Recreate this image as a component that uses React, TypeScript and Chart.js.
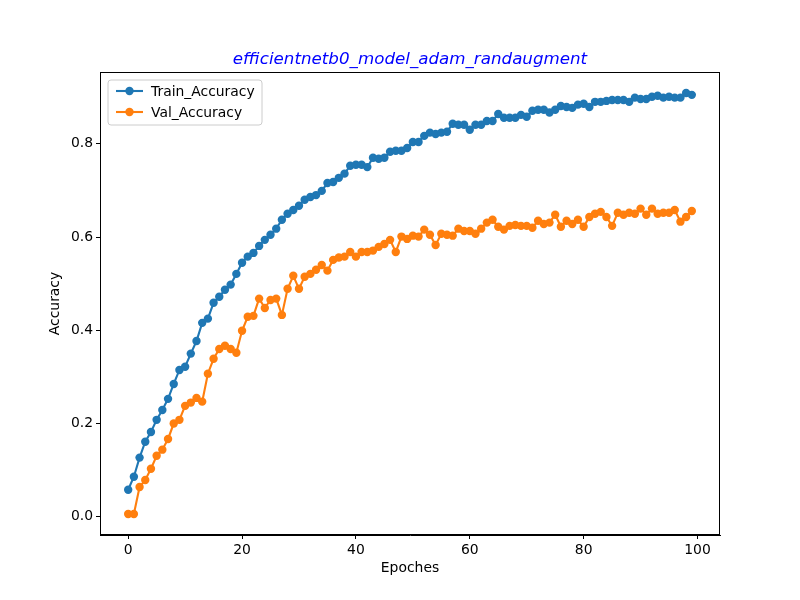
import React, { useEffect, useRef } from "react";
import { Chart, registerables } from "chart.js";

Chart.register(...registerables);

const epochs: number[] = Array.from({ length: 100 }, (_, i) => i);

const trainAccuracy: number[] = [
  0.058, 0.086, 0.127, 0.161, 0.182, 0.208, 0.229, 0.253, 0.285, 0.315,
  0.322, 0.35, 0.377, 0.416, 0.425, 0.459, 0.472, 0.487, 0.498, 0.521,
  0.545, 0.558, 0.566, 0.581, 0.594, 0.605, 0.618, 0.637, 0.65, 0.658,
  0.667, 0.68, 0.686, 0.69, 0.699, 0.716, 0.718, 0.727, 0.736, 0.753,
  0.755, 0.755, 0.75, 0.77, 0.768, 0.77, 0.783, 0.785, 0.785, 0.791,
  0.804, 0.804, 0.817, 0.824, 0.821, 0.824, 0.826, 0.843, 0.841, 0.841,
  0.83, 0.841, 0.841, 0.849, 0.849, 0.864, 0.856, 0.856, 0.856, 0.862,
  0.858, 0.871, 0.873, 0.873, 0.867, 0.873, 0.881, 0.879, 0.877, 0.884,
  0.886, 0.879, 0.89, 0.89, 0.892, 0.894, 0.894, 0.894, 0.89, 0.899,
  0.896, 0.896, 0.901, 0.903, 0.899, 0.901, 0.899, 0.899, 0.909, 0.905,
];

const valAccuracy: number[] = [
  0.006, 0.006, 0.064, 0.079, 0.103, 0.131, 0.144, 0.167, 0.2, 0.208,
  0.238, 0.245, 0.255, 0.247, 0.307, 0.339, 0.36, 0.367, 0.36, 0.352,
  0.399, 0.429, 0.431, 0.468, 0.448, 0.465, 0.468, 0.433, 0.489, 0.517,
  0.489, 0.515, 0.521, 0.53, 0.54, 0.528, 0.551, 0.556, 0.558, 0.568,
  0.558, 0.568, 0.568, 0.571, 0.579, 0.585, 0.594, 0.568, 0.601, 0.596,
  0.603, 0.601, 0.616, 0.605, 0.583, 0.607, 0.605, 0.603, 0.618, 0.613,
  0.613, 0.607, 0.618, 0.631, 0.637, 0.622, 0.616, 0.624, 0.626, 0.624,
  0.624, 0.62, 0.635, 0.628, 0.631, 0.648, 0.622, 0.635, 0.628, 0.637,
  0.622, 0.643, 0.65, 0.654, 0.643, 0.624, 0.652, 0.648, 0.652, 0.65,
  0.661, 0.648, 0.661, 0.65, 0.652, 0.652, 0.658, 0.633, 0.643, 0.656,
];

const xTicks: number[] = [0, 20, 40, 60, 80, 100];
const yTicks: number[] = [0.0, 0.2, 0.4, 0.6, 0.8];

const titleText = "efficientnetb0_model_adam_randaugment";
const seriesNames: string[] = ["Train_Accuracy", "Val_Accuracy"];
const seriesColors: string[] = ["#1f77b4", "#ff7f0e"];

const FONT = "'DejaVu Sans', sans-serif";

const framePlugin = {
  id: "frameAndExtras",
  afterDatasetsDraw(chart: any) {
    const { ctx, chartArea } = chart;
    const { left, right, top, bottom } = chartArea;
    ctx.save();
    ctx.strokeStyle = "#000";
    ctx.lineWidth = 1;
    ctx.strokeRect(left + 0.5, top + 0.5, right - left - 1, bottom - top - 1);

    ctx.fillStyle = "#0000ff";
    ctx.font = `italic 16.7px ${FONT}`;
    ctx.textAlign = "center";
    ctx.textBaseline = "alphabetic";
    ctx.fillText(titleText, (left + right) / 2, top - 8);

    const lx = left + 8;
    const ly = top + 8;
    const lw = 154;
    const lh = 45;
    const r = 3;
    ctx.beginPath();
    ctx.moveTo(lx + r, ly);
    ctx.lineTo(lx + lw - r, ly);
    ctx.quadraticCurveTo(lx + lw, ly, lx + lw, ly + r);
    ctx.lineTo(lx + lw, ly + lh - r);
    ctx.quadraticCurveTo(lx + lw, ly + lh, lx + lw - r, ly + lh);
    ctx.lineTo(lx + r, ly + lh);
    ctx.quadraticCurveTo(lx, ly + lh, lx, ly + lh - r);
    ctx.lineTo(lx, ly + r);
    ctx.quadraticCurveTo(lx, ly, lx + r, ly);
    ctx.closePath();
    ctx.fillStyle = "rgba(255,255,255,0.8)";
    ctx.fill();
    ctx.strokeStyle = "#cccccc";
    ctx.stroke();

    chart.data.datasets.forEach((ds: any, i: number) => {
      const cy = ly + 11 + i * 21;
      ctx.strokeStyle = ds.borderColor;
      ctx.lineWidth = 2.1;
      ctx.beginPath();
      ctx.moveTo(lx + 8, cy);
      ctx.lineTo(lx + 35, cy);
      ctx.stroke();
      ctx.fillStyle = ds.backgroundColor;
      ctx.beginPath();
      ctx.arc(lx + 21.5, cy, 4.2, 0, Math.PI * 2);
      ctx.fill();
      ctx.fillStyle = "#000";
      ctx.font = `13.9px ${FONT}`;
      ctx.textAlign = "left";
      ctx.textBaseline = "middle";
      ctx.fillText(ds.label, lx + 43, cy + 1);
    });
    ctx.restore();
  },
};

export default function App() {
  const ref = useRef<HTMLCanvasElement | null>(null);

  useEffect(() => {
    if (!ref.current) return;
    const chart = new Chart(ref.current, {
      type: "line",
      data: {
        labels: epochs,
        datasets: [
          {
            label: seriesNames[0],
            data: epochs.map((x, i) => ({ x, y: trainAccuracy[i] })),
            borderColor: seriesColors[0],
            backgroundColor: seriesColors[0],
            borderWidth: 2.1,
            pointRadius: 4.2,
            pointHoverRadius: 4.2,
            pointBorderWidth: 0,
            tension: 0,
          },
          {
            label: seriesNames[1],
            data: epochs.map((x, i) => ({ x, y: valAccuracy[i] })),
            borderColor: seriesColors[1],
            backgroundColor: seriesColors[1],
            borderWidth: 2.1,
            pointRadius: 4.2,
            pointHoverRadius: 4.2,
            pointBorderWidth: 0,
            tension: 0,
          },
        ],
      },
      options: {
        animation: false,
        responsive: false,
        devicePixelRatio: 1,
        layout: { padding: { left: 47, top: 72, right: 80, bottom: 15 } },
        plugins: {
          legend: { display: false },
          title: { display: false },
          tooltip: { enabled: false },
        },
        scales: {
          x: {
            type: "linear",
            min: -4.95,
            max: 103.95,
            afterBuildTicks: (scale: any) => {
              scale.ticks = xTicks.map((v) => ({ value: v }));
            },
            afterFit: (scale: any) => {
              scale.height = 50;
            },
            grid: {
              drawOnChartArea: false,
              drawTicks: true,
              tickLength: 4,
              color: "#000",
            },
            border: { display: true, color: "#000" },
            ticks: {
              color: "#000",
              font: { family: FONT, size: 13.9 },
              padding: 3,
              maxRotation: 0,
              callback: (v: any) => String(v),
            },
            title: {
              display: true,
              text: "Epoches",
              color: "#000",
              font: { family: FONT, size: 13.9 },
              padding: { top: 0, bottom: 8 },
            },
          },
          y: {
            type: "linear",
            min: -0.039,
            max: 0.954,
            afterBuildTicks: (scale: any) => {
              scale.ticks = yTicks.map((v) => ({ value: v }));
            },
            afterFit: (scale: any) => {
              scale.width = 53;
            },
            grid: {
              drawOnChartArea: false,
              drawTicks: true,
              tickLength: 4,
              color: "#000",
            },
            border: { display: true, color: "#000" },
            ticks: {
              color: "#000",
              font: { family: FONT, size: 13.9 },
              padding: 3,
              callback: (v: any) => Number(v).toFixed(1),
            },
            title: {
              display: true,
              text: "Accuracy",
              color: "#000",
              font: { family: FONT, size: 13.9 },
              padding: { top: 0, bottom: 0 },
            },
          },
        },
      },
      plugins: [framePlugin],
    } as any);
    return () => chart.destroy();
  }, []);

  return (
    <div style={{ position: "absolute", left: 0, top: 0, width: 800, height: 600, background: "#fff" }}>
      <canvas ref={ref} width={800} height={600} style={{ width: 800, height: 600 }} />
    </div>
  );
}
